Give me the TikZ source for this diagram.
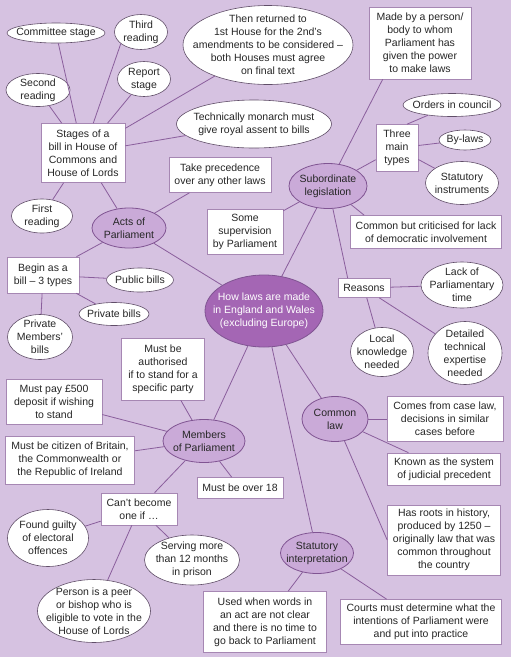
\documentclass[tikz,border=0pt]{standalone}
\usepackage{fontspec}
\setmainfont{Liberation Sans}
\usepackage{xcolor}
\usetikzlibrary{shapes.geometric}

\definecolor{mapbg}{RGB}{214,194,225}
\definecolor{hubfill}{RGB}{164,102,180}
\definecolor{topicfill}{RGB}{202,170,216}
\definecolor{rimcol}{RGB}{128,84,146}
\definecolor{linkcol}{RGB}{138,94,156}
\definecolor{leafrim}{RGB}{96,78,104}

\begin{document}
\begin{tikzpicture}[
x=1pt, y=-1pt,
every node/.style={font=\fontsize{10.5}{13}\selectfont, align=center, text=black!85},
notebox/.style={draw=rimcol!70, fill=white, inner sep=0pt, line width=0.6pt},
leafoval/.style={ellipse, draw=leafrim, fill=white, inner sep=-30pt, line width=0.6pt},
topicoval/.style={ellipse, draw=rimcol, fill=topicfill, inner sep=-30pt, line width=0.8pt},
hubnode/.style={ellipse, draw=rimcol, fill=hubfill, inner sep=-40pt, text=white, line width=0.8pt},
link/.style={draw=linkcol, line width=0.8pt}
]
\useasboundingbox[fill=mapbg] (0,0) rectangle (511,657);

% centre
\node[hubnode, minimum width=118pt, minimum height=72pt] (hub) at (264,311) {How laws are made\\in England and Wales\\(excluding Europe)};

% Acts of Parliament
\node[topicoval, minimum width=74pt, minimum height=40pt] (acts) at (129,228) {Acts of\\Parliament};
\node[notebox, minimum width=84pt, minimum height=59pt] (stages) at (83,153) {Stages of a\\bill in House of\\Commons and\\House of Lords};
\node[leafoval, minimum width=98pt, minimum height=20pt] (committee) at (56,33) {Committee stage};
\node[leafoval, minimum width=53pt, minimum height=35pt] (third) at (141,32) {Third\\reading};
\node[leafoval, minimum width=64pt, minimum height=33pt] (second) at (38,90) {Second\\reading};
\node[leafoval, minimum width=53pt, minimum height=35pt] (report) at (144,79) {Report\\stage};
\node[leafoval, minimum width=61pt, minimum height=34pt] (first) at (42,216) {First\\reading};
\node[leafoval, minimum width=170pt, minimum height=79pt] (returned) at (268,45) {Then returned to\\1st House for the 2nd’s\\amendments to be considered –\\both Houses must agree\\on final text};
\node[leafoval, minimum width=155pt, minimum height=48pt] (royal) at (254,124) {Technically monarch must\\give royal assent to bills};
\node[notebox, minimum width=102pt, minimum height=35pt] (precede) at (220,175) {Take precedence\\over any other laws};
\node[notebox, minimum width=72pt, minimum height=36pt] (beginbill) at (43,275) {Begin as a\\bill – 3 types};
\node[leafoval, minimum width=67pt, minimum height=24pt] (public) at (140,280) {Public bills};
\node[leafoval, minimum width=70pt, minimum height=23pt] (private) at (114,314) {Private bills};
\node[leafoval, minimum width=65pt, minimum height=45pt] (pmb) at (40,337) {Private\\Members’\\bills};

% Subordinate legislation
\node[topicoval, minimum width=78pt, minimum height=45pt] (subord) at (328,186) {Subordinate\\legislation};
\node[notebox, minimum width=102pt, minimum height=72pt] (madeby) at (420,43) {Made by a person/\\body to whom\\Parliament has\\given the power\\to make laws};
\node[notebox, minimum width=42pt, minimum height=47pt] (types) at (397,148) {Three\\main\\types};
\node[leafoval, minimum width=98pt, minimum height=23pt] (orders) at (452,105) {Orders in council};
\node[leafoval, minimum width=52pt, minimum height=20pt] (bylaws) at (465,140) {By-laws};
\node[leafoval, minimum width=73pt, minimum height=43pt] (statinst) at (462,183) {Statutory\\instruments};
\node[notebox, minimum width=151pt, minimum height=33pt] (criticised) at (426,232) {Common but criticised for lack\\of democratic involvement};
\node[notebox, minimum width=76pt, minimum height=45pt] (supervise) at (245,232) {Some\\supervision\\by Parliament};
\node[notebox, minimum width=52pt, minimum height=19pt] (reasons) at (364,288) {Reasons};
\node[leafoval, minimum width=82pt, minimum height=46pt] (lacktime) at (462,285) {Lack of\\Parliamentary\\time};
\node[leafoval, minimum width=63pt, minimum height=49pt] (local) at (382,352) {Local\\knowledge\\needed};
\node[leafoval, minimum width=74pt, minimum height=63pt] (expertise) at (465,353) {Detailed\\technical\\expertise\\needed};

% Common law
\node[topicoval, minimum width=66pt, minimum height=45pt] (comlaw) at (335,419) {Common\\law};
\node[notebox, minimum width=116pt, minimum height=45pt] (caselaw) at (445,419) {Comes from case law,\\decisions in similar\\cases before};
\node[notebox, minimum width=113pt, minimum height=32pt] (precedent) at (444,469) {Known as the system\\of judicial precedent};
\node[notebox, minimum width=113pt, minimum height=70pt] (roots) at (444,540) {Has roots in history,\\produced by 1250 –\\originally law that was\\common throughout\\the country};

% Statutory interpretation
\node[topicoval, minimum width=73pt, minimum height=41pt] (statint) at (317,553) {Statutory\\interpretation};
\node[notebox, minimum width=123pt, minimum height=61pt] (usedwhen) at (265,622) {Used when words in\\an act are not clear\\and there is no time to\\go back to Parliament};
\node[notebox, minimum width=161pt, minimum height=45pt] (courts) at (421,622) {Courts must determine what the\\intentions of Parliament were\\and put into practice};

% Members of Parliament
\node[topicoval, minimum width=82pt, minimum height=43pt] (members) at (204,441) {Members\\of Parliament};
\node[notebox, minimum width=83pt, minimum height=62pt] (authorised) at (163,369) {Must be\\authorised\\if to stand for a\\specific party};
\node[notebox, minimum width=96pt, minimum height=45pt] (deposit) at (54,402) {Must pay £500\\deposit if wishing\\to stand};
\node[notebox, minimum width=129pt, minimum height=48pt] (citizen) at (70,460) {Must be citizen of Britain,\\the Commonwealth or\\the Republic of Ireland};
\node[notebox, minimum width=86pt, minimum height=21pt] (over18) at (240,488) {Must be over 18};
\node[notebox, minimum width=76pt, minimum height=32pt] (cantbe) at (139,509) {Can’t become\\one if …};
\node[leafoval, minimum width=81pt, minimum height=57pt] (guilty) at (48,538) {Found guilty\\of electoral\\offences};
\node[leafoval, minimum width=95pt, minimum height=50pt] (serving) at (192,560) {Serving more\\than 12 months\\in prison};
\node[leafoval, minimum width=113pt, minimum height=63pt] (peer) at (94,611) {Person is a peer\\or bishop who is\\eligible to vote in the\\House of Lords};

% connectors
\draw[link] (hub) -- (acts);
\draw[link] (hub) -- (subord);
\draw[link] (hub) -- (members);
\draw[link] (hub) -- (comlaw);
\draw[link] (hub) -- (statint);
\draw[link] (acts) -- (stages);
\draw[link] (acts) -- (precede);
\draw[link] (acts) -- (beginbill);
\draw[link] (stages) -- (committee);
\draw[link] (stages) -- (third.210);
\draw[link] (stages) -- (second);
\draw[link] (stages) -- (report);
\draw[link] (stages) -- (first);
\draw[link] (stages) -- (returned);
\draw[link] (stages) -- (royal);
\draw[link] (beginbill) -- (public);
\draw[link] (beginbill) -- (private);
\draw[link] (beginbill) -- (pmb);
\draw[link] (subord) -- ([xshift=14pt]madeby.south west);
\draw[link] (subord) -- (types);
\draw[link] (subord) -- ([xshift=14pt]criticised.north west);
\draw[link] (subord) -- (supervise);
\draw[link] (subord) -- ([xshift=10pt]reasons.north west);
\draw[link] ([xshift=10pt]types.north) -- (orders);
\draw[link] (types) -- (bylaws);
\draw[link] (types) -- (statinst);
\draw[link] (reasons) -- (lacktime);
\draw[link] (reasons) -- (local);
\draw[link] (reasons) -- (expertise);
\draw[link] (comlaw) -- (caselaw);
\draw[link] (comlaw) -- (precedent);
\draw[link] (comlaw) -- (roots.west);
\draw[link] (statint) -- (usedwhen);
\draw[link] (statint) -- (courts);
\draw[link] (members) -- (authorised);
\draw[link] (members) -- (deposit);
\draw[link] (members) -- (citizen);
\draw[link] (members) -- (over18);
\draw[link] (members) -- (cantbe);
\draw[link] (cantbe) -- (guilty);
\draw[link] (cantbe) -- (serving);
\draw[link] (cantbe) -- (peer);
\end{tikzpicture}
\end{document}
